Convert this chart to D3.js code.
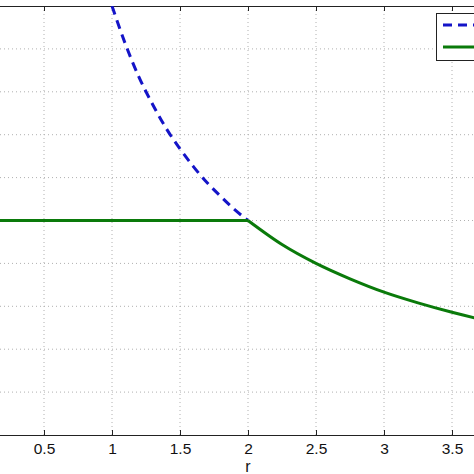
<!DOCTYPE html>
<html><head><meta charset="utf-8">
<script src="https://cdn.jsdelivr.net/npm/d3@7"></script>
<style>html,body{margin:0;padding:0;background:#fff;overflow:hidden}</style>
</head><body>
<script>
// Data
const xTicks = [0.5, 1, 1.5, 2, 2.5, 3, 3.5];
const xTickLabels = ["0.5", "1", "1.5", "2", "2.5", "3", "3.5"];
const yTicks = [0.1, 0.2, 0.3, 0.4, 0.5, 0.6, 0.7, 0.8, 0.9];
const blueR = [1.0, 1.1, 1.2, 1.3, 1.4, 1.5, 1.6, 1.7, 1.8, 1.9, 2.0];
const blueV = [1.0, 0.91, 0.833, 0.77, 0.714, 0.667, 0.625, 0.588, 0.556, 0.526, 0.5];
const greenFlatR = [0, 2];
const greenFlatV = [0.5, 0.5];
const greenR = [2.0, 2.25, 2.5, 2.75, 3.0, 3.25, 3.5, 3.75, 4.0];
const greenV = [0.5, 0.444, 0.4, 0.364, 0.333, 0.308, 0.286, 0.267, 0.25];
const xLabel = "r";

(function () {
const W = 474, H = 474;
const svg = d3.select("body").append("svg").attr("width", W).attr("height", H);
const x = d3.scaleLinear().domain([0, 4]).range([-24, 520]);
const y = d3.scaleLinear().domain([0, 1]).range([435, 6]);
const font = "'Liberation Sans', Arial, Helvetica, sans-serif";

svg.append("defs").append("clipPath").attr("id", "plot")
  .append("rect").attr("x", x(0)).attr("y", y(1)).attr("width", x(4) - x(0)).attr("height", y(0) - y(1));

// grid
const grid = svg.append("g");
grid.selectAll("line.v").data(xTicks).join("line").attr("class", "v")
  .attr("x1", d => x(d)).attr("x2", d => x(d)).attr("y1", y(0)).attr("y2", y(1))
  .attr("stroke", "#b0b0b0").attr("stroke-width", 1).attr("stroke-dasharray", "1,3");
grid.selectAll("line.h").data(yTicks).join("line").attr("class", "h")
  .attr("x1", x(0)).attr("x2", x(4)).attr("y1", d => y(d)).attr("y2", d => y(d))
  .attr("stroke", "#b0b0b0").attr("stroke-width", 1).attr("stroke-dasharray", "1,3");

// axes
const bottomAxis = d3.axisBottom(x).tickValues(xTicks).tickFormat((d, i) => xTickLabels[i]).tickSizeInner(-5).tickSizeOuter(0).tickPadding(8);
const gb = svg.append("g").attr("transform", `translate(0,${y(0)})`).call(bottomAxis);
gb.select(".domain").attr("stroke", "#222");
gb.selectAll(".tick line").attr("stroke", "#222");
gb.selectAll("text").attr("font-family", font).attr("font-size", 15.5).attr("fill", "#111");
const topAxis = d3.axisTop(x).tickValues(xTicks).tickFormat("").tickSizeInner(-5).tickSizeOuter(0);
const gt = svg.append("g").attr("transform", `translate(0,${y(1)})`).call(topAxis);
gt.select(".domain").attr("stroke", "#222");
gt.selectAll(".tick line").attr("stroke", "#222");

svg.append("text").attr("x", x(2)).attr("y", 472).attr("text-anchor", "middle")
  .attr("font-family", font).attr("font-size", 16).attr("fill", "#111").text(xLabel);

const plot = svg.append("g").attr("clip-path", "url(#plot)");
const lin = d3.line().x(d => x(d[0])).y(d => y(d[1]));
const smooth = d3.line().x(d => x(d[0])).y(d => y(d[1])).curve(d3.curveMonotoneX);

plot.append("path").attr("d", smooth(d3.zip(blueR, blueV)))
  .attr("fill", "none").attr("stroke", "#1414c8").attr("stroke-width", 3).attr("stroke-dasharray", "9,6");
plot.append("path").attr("d", lin(d3.zip(greenFlatR, greenFlatV)) + smooth(d3.zip(greenR, greenV)))
  .attr("fill", "none").attr("stroke", "#0a7a0a").attr("stroke-width", 3).attr("stroke-linejoin", "round");

// legend (cropped at right edge)
const lg = svg.append("g");
lg.append("rect").attr("x", 436.5).attr("y", 13.5).attr("width", 80).attr("height", 47)
  .attr("fill", "#fff").attr("stroke", "#222").attr("stroke-width", 1);
lg.append("line").attr("x1", 443).attr("x2", 480).attr("y1", 25).attr("y2", 25)
  .attr("stroke", "#1414c8").attr("stroke-width", 3).attr("stroke-dasharray", "9,6");
lg.append("line").attr("x1", 443).attr("x2", 480).attr("y1", 47).attr("y2", 47)
  .attr("stroke", "#0a7a0a").attr("stroke-width", 3);
})();
</script>
</body></html>
